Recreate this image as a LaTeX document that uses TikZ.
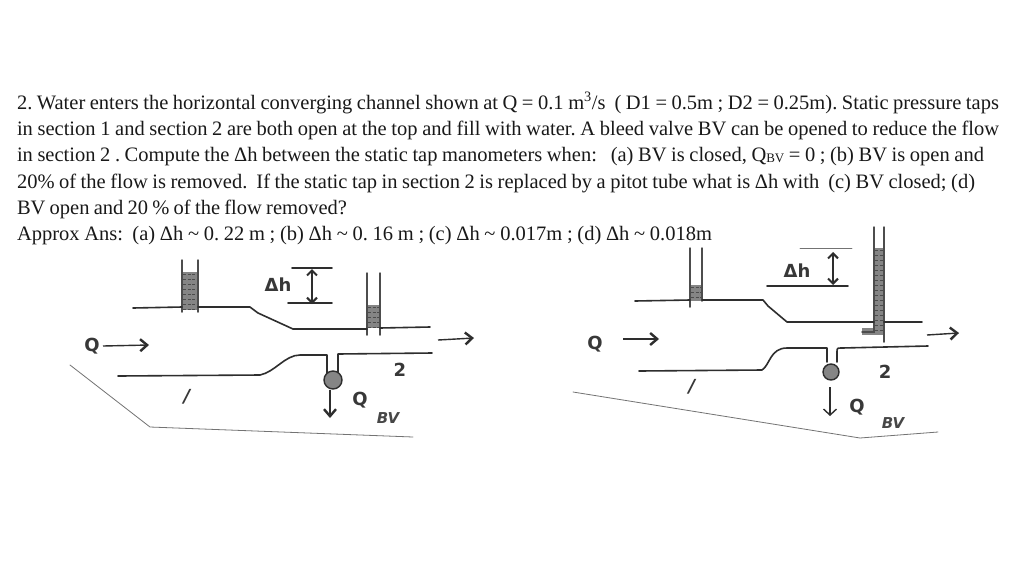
\documentclass[tikz,border=0pt]{standalone}
\usepackage{fontspec}
\setmainfont{Liberation Serif}
\newfontfamily\handfont{DejaVu Sans}
\definecolor{inkc}{gray}{0.10}
\definecolor{wallc}{gray}{0.18}
\definecolor{waterc}{gray}{0.52}
\usetikzlibrary{arrows.meta}
\tikzset{
  txt/.style={anchor=base west,inner sep=0pt,outer sep=0pt,text=inkc,font=\fontsize{20.5}{22}\selectfont},
  wall/.style={draw=wallc,line width=1.6pt,line cap=round,line join=round},
  tube/.style={draw=wallc!85,line width=1.5pt,line cap=round},
  water/.style={fill=waterc,draw=none},
  ripple/.style={draw=black!70,line width=0.9pt,dash pattern=on 3pt off 1.5pt},
  thin wall/.style={draw=black!55,line width=0.8pt,line cap=round,line join=round},
  flow/.style={draw=wallc,line width=1.4pt,-{Straight Barb[length=7pt,width=12pt,line width=2.4pt]}},
  dim/.style={draw=wallc,line width=1.2pt,{Straight Barb[length=5pt,width=10pt,line width=2pt]}-{Straight Barb[length=5pt,width=10pt,line width=2pt]}},
  hand/.style={inner sep=0pt,text=black!78,font=\handfont\bfseries\fontsize{18}{18}\selectfont},
  handsm/.style={inner sep=0pt,text=black!72,font=\handfont\bfseries\itshape\fontsize{15}{15}\selectfont},
  valve/.style={circle,draw=wallc,fill=black!48,line width=1.4pt,inner sep=0pt}
}
\begin{document}
\begin{tikzpicture}[x=1pt,y=-1pt]
\frenchspacing
\useasboundingbox[fill=white] (0,0) rectangle (1024,576);
% --- text
\node[txt] (l1) at (17,109) {\hbox to 982pt{2. Water enters the horizontal converging channel shown at Q = 0.1 m\textsuperscript{3}/s \ ( D1 = 0.5m ; D2 = 0.25m). Static pressure taps}};
\node[txt] (l2) at (17,135) {\hbox to 982pt{in section 1 and section 2 are both open at the top and fill with water. A bleed valve BV can be opened to reduce the flow}};
\node[txt] (l3) at (17,161) {\hbox to 967pt{in section 2 . Compute the Δh between the static tap manometers when: \ \ (a) BV is closed, Q\raisebox{-1pt}{\fontsize{13}{13}\selectfont BV} = 0 ; (b) BV is open and}};
\node[txt] (l4) at (17,188) {\hbox to 958pt{20\% of the flow is removed. \ If the static tap in section 2 is replaced by a pitot tube what is Δh with \ (c) BV closed; (d)}};
\node[txt] (l5) at (17,214) {\hbox to 330pt{BV open and 20 \% of the flow removed?}};
\node[txt] (l6) at (17,240) {\hbox to 695pt{Approx Ans: \ (a) Δh \textasciitilde{} 0. 22 m ; (b) Δh \textasciitilde{} 0. 16 m ; (c) Δh \textasciitilde{} 0.017m ; (d) Δh \textasciitilde{} 0.018m}};
% --- left channel
\fill[water] (182,272) rectangle (198,310);
\foreach \yy in {274,279,...,309} \draw[ripple] (183,\yy) -- (197,\yy);
\draw[tube] (182,260) -- (182,312);
\draw[tube] (198,260) -- (198,312);
\fill[water] (367,305) rectangle (380,328);
\foreach \yy in {307,312,...,327} \draw[ripple] (368,\yy) -- (379,\yy);
\draw[tube] (367,273) -- (367,335);
\draw[tube] (380,273) -- (380,335);
\draw[wall] (133,308) -- (182,307) (198,307) -- (250,307) -- (258,313) -- (293,329) -- (367,329) (380,328) -- (430,327);
\draw[wall] (118,376) -- (260,375) .. controls (275,372) and (285,355) .. (300,355) -- (327,355) -- (327,373);
\draw[wall] (338,373) -- (338,354) -- (432,353);
\node[valve,minimum size=18pt] (vl) at (333,380) {};
\coordinate (vlq) at (330,418);
\draw[flow] (vl.south) ++(-3,0) -- (vlq);
\coordinate (ql0) at (103,346); \coordinate (ql1) at (149,345);
\draw[flow] (ql0) -- (ql1);
\coordinate (qr0) at (438,340); \coordinate (qr1) at (474,338);
\draw[flow] (qr0) -- (qr1);
\node[hand] (qlt) at (92,346) {Q};
\node[hand] (dhl) at (278,285) {Δh};
\node[hand] (one) at (187,397) {\itshape /};
\node[hand] (two) at (400,370) {2};
\node[hand] (qbv) at (360,400) {Q};
\node[handsm] (bvl) at (388,418) {BV};
\draw[wall] (292,268) -- (332,268);
\draw[wall] (288,303) -- (332,303);
\coordinate (dl0) at (312,269); \coordinate (dl1) at (312,304);
\draw[dim] (dl0) -- (dl1);
\draw[thin wall] (70,365) -- (150,427) -- (413,437);
% --- right channel
\fill[water] (690,285) rectangle (702,301);
\foreach \yy in {287,292,297} \draw[ripple] (691,\yy) -- (701,\yy);
\draw[tube] (690,248) -- (690,307);
\draw[tube] (702,248) -- (702,301);
\fill[water] (874,248) rectangle (884,335);
\fill[water] (862,328) rectangle (876,335);
\foreach \yy in {250,255,...,330} \draw[ripple] (875,\yy) -- (883,\yy);
\draw[tube] (874,227) -- (874,332) -- (862,332);
\draw[tube] (884,227) -- (884,342);
\draw[wall] (635,301) -- (690,300) (702,300) -- (763,300) -- (768,306) -- (787,322) -- (874,322) (884,322) -- (922,322);
\draw[wall] (639,371) -- (762,370) .. controls (770,365) and (770,348) .. (787,348) -- (827,348) -- (827,362);
\draw[wall] (837,362) -- (837,352) .. controls (837,348) .. (842,348) -- (928,346);
\node[valve,minimum size=16pt] (vr) at (831,372) {};
\coordinate (vr0) at (830,387); \coordinate (vr1) at (830,416);
\draw[flow,-{Straight Barb[length=6pt,width=13pt,line width=1.4pt]}] (vr0) -- (vr1);
\coordinate (qq0) at (623,339); \coordinate (qq1) at (659,339);
\draw[flow] (qq0) -- (qq1);
\coordinate (qs0) at (927,335); \coordinate (qs1) at (959,333);
\draw[flow] (qs0) -- (qs1);
\node[hand] (qrt) at (595,344) {Q};
\node[hand] (dhr) at (797,271) {Δh};
\node[hand] (oner) at (692,387) {\itshape /};
\node[hand] (twor) at (885,372) {2};
\node[hand] (qbr) at (857,407) {Q};
\node[handsm] (bvr) at (893,423) {BV};
\draw[thin wall] (800,248) -- (852,248);
\draw[wall] (767,286) -- (848,286);
\coordinate (dr0) at (833,252); \coordinate (dr1) at (833,285);
\draw[dim] (dr0) -- (dr1);
\draw[thin wall] (573,392) -- (860,438) -- (938,432);
\end{tikzpicture}
\end{document}
